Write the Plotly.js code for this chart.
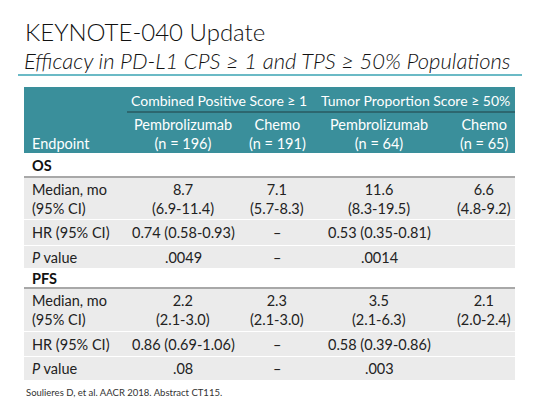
<!DOCTYPE html>
<html>
<head>
<meta charset="utf-8">
<script src="https://cdn.plot.ly/plotly-3.0.1.min.js"></script>
<style>
  html, body { margin: 0; padding: 0; background: #fff; }
  #chart { width: 540px; height: 405px; }
</style>
</head>
<body>
<div id="chart"></div>
<script>
// table content
var groups = ['Combined Positive Score \u2265 1', 'Tumor Proportion Score \u2265 50%'];
var arms = ['Pembrolizumab', 'Chemo', 'Pembrolizumab', 'Chemo'];
var armN = [196, 191, 64, 65];
var sections = ['OS', 'PFS'];
var endpoints = ['Median, mo<br>(95% CI)', 'HR (95% CI)', '<i>P</i> value'];

var osMedian = [8.7, 7.1, 11.6, 6.6];
var osCI = ['6.9-11.4', '5.7-8.3', '8.3-19.5', '4.8-9.2'];
var osHR = ['0.74 (0.58-0.93)', '\u2013', '0.53 (0.35-0.81)', ''];
var osP = ['.0049', '\u2013', '.0014', ''];

var pfsMedian = [2.2, 2.3, 3.5, 2.1];
var pfsCI = ['2.1-3.0', '2.1-3.0', '2.1-6.3', '2.0-2.4'];
var pfsHR = ['0.86 (0.69-1.06)', '\u2013', '0.58 (0.39-0.86)', ''];
var pfsP = ['.08', '\u2013', '.003', ''];

var source = 'Soulieres D, et al. AACR 2018. Abstract CT115.';

// geometry (pixel units on the hidden axes)
var FONT = 'Lato, "Open Sans", sans-serif';
var TEAL = '#3a8f9b';
var GRAY = '#ebebeb';
var tableLeft = 24, tableRight = 515;
var colX = [183, 277, 379, 484];
var groupX = [219, 415];
// [top, bottom] of each body row for one section
var sectionRows = [
  { head: [153, 177], rows: [[178, 219], [220, 245], [246, 268]] },
  { head: [268, 288], rows: [[289, 331], [332, 356], [357, 380]] }
];
var sectionData = [
  [osMedian, osCI, osHR, osP],
  [pfsMedian, pfsCI, pfsHR, pfsP]
];

var shapes = [];
var ann = [];

function text(x, y, t, opts) {
  opts = opts || {};
  ann.push({
    x: x, y: y, xref: 'x', yref: 'y', text: t, showarrow: false,
    xanchor: opts.anchor || 'center', yanchor: 'middle',
    align: opts.anchor || 'center',
    font: { family: FONT, size: opts.size || 14.5, color: opts.color || '#222',
            weight: opts.weight || 'normal' }
  });
}

// slide title
text(23, 31, 'KEYNOTE-040 Update', { anchor: 'left', size: 24, color: '#111', weight: 300 });
text(22, 60, '<i>Efficacy in PD-L1 CPS \u2265 1 and TPS \u2265 50% Populations</i>',
  { anchor: 'left', size: 22, color: '#111', weight: 300 });
shapes.push({ type: 'line', xref: 'x', yref: 'y', x0: 18, x1: 522, y0: 75, y1: 75,
  line: { color: '#3aa3b3', width: 1.5 } });

// header block
shapes.push({ type: 'rect', xref: 'x', yref: 'y', x0: tableLeft, x1: tableRight, y0: 87, y1: 153,
  fillcolor: TEAL, line: { width: 0 }, layer: 'below' });
shapes.push({ type: 'line', xref: 'x', yref: 'y', x0: 127, x1: tableRight, y0: 112, y1: 112,
  line: { color: '#2a5a61', width: 1.5 } });
groups.forEach(function (g, i) { text(groupX[i], 100, g, { color: '#fff', size: 14 }); });
arms.forEach(function (a, i) {
  text(colX[i], 134, a + '<br>(n = ' + armN[i] + ')', { color: '#fff' });
});
text(30, 143, 'Endpoint', { anchor: 'left', color: '#fff' });

// body
sections.forEach(function (s, si) {
  var geo = sectionRows[si];
  var d = sectionData[si];
  text(30, (geo.head[0] + geo.head[1]) / 2, '<b>' + s + '</b>', { anchor: 'left', color: '#111' });
  geo.rows.forEach(function (r) {
    shapes.push({ type: 'rect', xref: 'x', yref: 'y', x0: tableLeft, x1: tableRight, y0: r[0], y1: r[1],
      fillcolor: GRAY, line: { width: 0 }, layer: 'below' });
  });
  shapes.push({ type: 'line', xref: 'x', yref: 'y', x0: tableLeft, x1: tableRight,
    y0: geo.head[1], y1: geo.head[1], line: { color: '#a8a8a8', width: 2 } });

  endpoints.forEach(function (e, ri) {
    var r = geo.rows[ri];
    text(30, (r[0] + r[1]) / 2, e, { anchor: 'left' });
  });
  for (var c = 0; c < 4; c++) {
    var r0 = geo.rows[0], r1 = geo.rows[1], r2 = geo.rows[2];
    text(colX[c], (r0[0] + r0[1]) / 2, d[0][c].toFixed(1) + '<br>(' + d[1][c] + ')');
    if (d[2][c]) text(colX[c], (r1[0] + r1[1]) / 2, d[2][c]);
    if (d[3][c]) text(colX[c], (r2[0] + r2[1]) / 2, d[3][c]);
  }
});

text(24, 392, source, { anchor: 'left', size: 9.5, color: '#333' });

var data = [{ type: 'scatter', x: [], y: [], mode: 'markers', hoverinfo: 'skip', showlegend: false }];

var layout = {
  width: 540, height: 405,
  margin: { l: 0, r: 0, t: 0, b: 0 },
  paper_bgcolor: '#fff', plot_bgcolor: '#fff',
  showlegend: false,
  xaxis: { range: [0, 540], visible: false, fixedrange: true },
  yaxis: { range: [405, 0], visible: false, fixedrange: true },
  shapes: shapes,
  annotations: ann
};

Plotly.newPlot('chart', data, layout, { staticPlot: true, displayModeBar: false });
</script>
</body>
</html>
